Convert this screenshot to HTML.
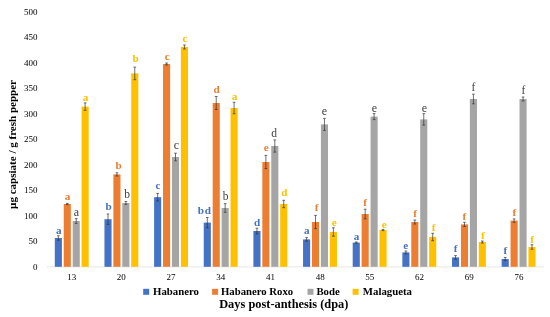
<!DOCTYPE html>
<html><head><meta charset="utf-8"><title>Capsiate content chart</title>
<style>
html,body{margin:0;padding:0;background:#fff;}
svg{display:block;font-family:"Liberation Serif","DejaVu Serif",serif;}
.tick{font-size:9px;fill:#000;}
.lab{font-size:11.2px;font-weight:bold;}
.labr{font-size:12px;font-weight:normal;}
.leg{font-size:10.9px;font-weight:bold;fill:#000;}
.ttl{font-size:12.2px;font-weight:bold;fill:#000;}
.yttl{font-size:11.4px;font-weight:bold;fill:#000;}
.eb{stroke:#333;stroke-width:0.7;fill:none;}
</style></head><body>
<svg width="550" height="317" viewBox="0 0 550 317">
<rect width="550" height="317" fill="#fff"/>
<text class="tick" x="37.4" y="269.6" text-anchor="end">0</text>
<text class="tick" x="37.4" y="244.1" text-anchor="end">50</text>
<text class="tick" x="37.4" y="218.6" text-anchor="end">100</text>
<text class="tick" x="37.4" y="193.1" text-anchor="end">150</text>
<text class="tick" x="37.4" y="167.6" text-anchor="end">200</text>
<text class="tick" x="37.4" y="142.1" text-anchor="end">250</text>
<text class="tick" x="37.4" y="116.6" text-anchor="end">300</text>
<text class="tick" x="37.4" y="91.1" text-anchor="end">350</text>
<text class="tick" x="37.4" y="65.6" text-anchor="end">400</text>
<text class="tick" x="37.4" y="40.1" text-anchor="end">450</text>
<text class="tick" x="37.4" y="14.6" text-anchor="end">500</text>
<line x1="46.8" y1="266.90000000000003" x2="544" y2="266.90000000000003" stroke="#E4E4E4" stroke-width="0.9"/>
<rect x="54.80" y="238.00" width="7.1" height="28.80" fill="#4472C4"/>
<rect x="63.73" y="204.00" width="7.1" height="62.80" fill="#ED7D31"/>
<rect x="72.66" y="221.00" width="7.1" height="45.80" fill="#A5A5A5"/>
<rect x="81.59" y="106.60" width="7.1" height="160.20" fill="#FFC000"/>
<rect x="104.45" y="219.20" width="7.1" height="47.60" fill="#4472C4"/>
<rect x="113.38" y="174.40" width="7.1" height="92.40" fill="#ED7D31"/>
<rect x="122.31" y="203.00" width="7.1" height="63.80" fill="#A5A5A5"/>
<rect x="131.24" y="73.40" width="7.1" height="193.40" fill="#FFC000"/>
<rect x="154.10" y="197.20" width="7.1" height="69.60" fill="#4472C4"/>
<rect x="163.03" y="64.00" width="7.1" height="202.80" fill="#ED7D31"/>
<rect x="171.96" y="157.00" width="7.1" height="109.80" fill="#A5A5A5"/>
<rect x="180.89" y="47.00" width="7.1" height="219.80" fill="#FFC000"/>
<rect x="203.75" y="222.60" width="7.1" height="44.20" fill="#4472C4"/>
<rect x="212.68" y="103.00" width="7.1" height="163.80" fill="#ED7D31"/>
<rect x="221.61" y="208.00" width="7.1" height="58.80" fill="#A5A5A5"/>
<rect x="230.54" y="108.00" width="7.1" height="158.80" fill="#FFC000"/>
<rect x="253.40" y="231.00" width="7.1" height="35.80" fill="#4472C4"/>
<rect x="262.33" y="162.00" width="7.1" height="104.80" fill="#ED7D31"/>
<rect x="271.26" y="146.00" width="7.1" height="120.80" fill="#A5A5A5"/>
<rect x="280.19" y="204.00" width="7.1" height="62.80" fill="#FFC000"/>
<rect x="303.05" y="239.40" width="7.1" height="27.40" fill="#4472C4"/>
<rect x="311.98" y="222.00" width="7.1" height="44.80" fill="#ED7D31"/>
<rect x="320.91" y="124.40" width="7.1" height="142.40" fill="#A5A5A5"/>
<rect x="329.84" y="232.00" width="7.1" height="34.80" fill="#FFC000"/>
<rect x="352.70" y="242.60" width="7.1" height="24.20" fill="#4472C4"/>
<rect x="361.63" y="214.00" width="7.1" height="52.80" fill="#ED7D31"/>
<rect x="370.56" y="116.60" width="7.1" height="150.20" fill="#A5A5A5"/>
<rect x="379.49" y="230.00" width="7.1" height="36.80" fill="#FFC000"/>
<rect x="402.35" y="252.40" width="7.1" height="14.40" fill="#4472C4"/>
<rect x="411.28" y="222.00" width="7.1" height="44.80" fill="#ED7D31"/>
<rect x="420.21" y="119.40" width="7.1" height="147.40" fill="#A5A5A5"/>
<rect x="429.14" y="237.00" width="7.1" height="29.80" fill="#FFC000"/>
<rect x="452.00" y="257.40" width="7.1" height="9.40" fill="#4472C4"/>
<rect x="460.93" y="224.40" width="7.1" height="42.40" fill="#ED7D31"/>
<rect x="469.86" y="99.00" width="7.1" height="167.80" fill="#A5A5A5"/>
<rect x="478.79" y="242.00" width="7.1" height="24.80" fill="#FFC000"/>
<rect x="501.65" y="259.00" width="7.1" height="7.80" fill="#4472C4"/>
<rect x="510.58" y="220.60" width="7.1" height="46.20" fill="#ED7D31"/>
<rect x="519.51" y="99.00" width="7.1" height="167.80" fill="#A5A5A5"/>
<rect x="528.44" y="247.00" width="7.1" height="19.80" fill="#FFC000"/>
<path class="eb" d="M58.35 235.80V240.20M57.00 235.80h2.7M57.00 240.20h2.7"/>
<text class="lab" x="58.80" y="234.10" text-anchor="middle" fill="#4472C4">a</text>
<path class="eb" d="M67.28 203.40V204.60M65.93 203.40h2.7M65.93 204.60h2.7"/>
<text class="lab" x="67.60" y="199.60" text-anchor="middle" fill="#ED7D31">a</text>
<path class="eb" d="M76.21 218.60V223.40M74.86 218.60h2.7M74.86 223.40h2.7"/>
<text class="labr" x="76.30" y="216.10" text-anchor="middle" fill="#404040">a</text>
<path class="eb" d="M85.14 102.90V110.30M83.79 102.90h2.7M83.79 110.30h2.7"/>
<text class="lab" x="85.60" y="101.40" text-anchor="middle" fill="#FFC000">a</text>
<path class="eb" d="M108.00 214.00V224.40M106.65 214.00h2.7M106.65 224.40h2.7"/>
<text class="lab" x="108.50" y="210.20" text-anchor="middle" fill="#4472C4">b</text>
<path class="eb" d="M116.93 172.80V176.00M115.58 172.80h2.7M115.58 176.00h2.7"/>
<text class="lab" x="118.70" y="168.80" text-anchor="middle" fill="#ED7D31">b</text>
<path class="eb" d="M125.86 201.60V204.40M124.51 201.60h2.7M124.51 204.40h2.7"/>
<text class="labr" style="font-size:11.5px" x="127.00" y="197.80" text-anchor="middle" fill="#404040">b</text>
<path class="eb" d="M134.79 67.10V79.70M133.44 67.10h2.7M133.44 79.70h2.7"/>
<text class="lab" x="135.60" y="62.20" text-anchor="middle" fill="#FFC000">b</text>
<path class="eb" d="M157.65 193.40V201.00M156.30 193.40h2.7M156.30 201.00h2.7"/>
<text class="lab" x="158.10" y="189.30" text-anchor="middle" fill="#4472C4">c</text>
<path class="eb" d="M166.58 63.00V65.00M165.23 63.00h2.7M165.23 65.00h2.7"/>
<text class="lab" x="167.20" y="59.80" text-anchor="middle" fill="#ED7D31">c</text>
<path class="eb" d="M175.51 153.20V160.80M174.16 153.20h2.7M174.16 160.80h2.7"/>
<text class="labr" x="176.50" y="149.20" text-anchor="middle" fill="#404040">c</text>
<path class="eb" d="M184.44 45.00V49.00M183.09 45.00h2.7M183.09 49.00h2.7"/>
<text class="lab" x="185.00" y="41.80" text-anchor="middle" fill="#FFC000">c</text>
<path class="eb" d="M207.30 217.50V227.70M205.95 217.50h2.7M205.95 227.70h2.7"/>
<text class="lab" x="204.80" y="214.20" text-anchor="middle" fill="#4472C4" letter-spacing="0.9">bd</text>
<path class="eb" d="M216.23 96.50V109.50M214.88 96.50h2.7M214.88 109.50h2.7"/>
<text class="lab" x="216.70" y="93.40" text-anchor="middle" fill="#ED7D31">d</text>
<path class="eb" d="M225.16 203.70V212.30M223.81 203.70h2.7M223.81 212.30h2.7"/>
<text class="labr" style="font-size:11.5px" x="225.60" y="199.80" text-anchor="middle" fill="#404040">b</text>
<path class="eb" d="M234.09 102.30V113.70M232.74 102.30h2.7M232.74 113.70h2.7"/>
<text class="lab" x="234.50" y="100.40" text-anchor="middle" fill="#FFC000">a</text>
<path class="eb" d="M256.95 228.20V233.80M255.60 228.20h2.7M255.60 233.80h2.7"/>
<text class="lab" x="257.00" y="225.80" text-anchor="middle" fill="#4472C4">d</text>
<path class="eb" d="M265.88 155.40V168.60M264.53 155.40h2.7M264.53 168.60h2.7"/>
<text class="lab" x="266.30" y="151.20" text-anchor="middle" fill="#ED7D31">e</text>
<path class="eb" d="M274.81 139.90V152.10M273.46 139.90h2.7M273.46 152.10h2.7"/>
<text class="labr" style="font-size:11.5px" x="274.00" y="136.70" text-anchor="middle" fill="#404040">d</text>
<path class="eb" d="M283.74 200.30V207.70M282.39 200.30h2.7M282.39 207.70h2.7"/>
<text class="lab" x="284.40" y="196.10" text-anchor="middle" fill="#FFC000">d</text>
<path class="eb" d="M306.60 237.60V241.20M305.25 237.60h2.7M305.25 241.20h2.7"/>
<text class="lab" x="306.80" y="234.20" text-anchor="middle" fill="#4472C4">a</text>
<path class="eb" d="M315.53 215.40V228.60M314.18 215.40h2.7M314.18 228.60h2.7"/>
<text class="lab" x="316.60" y="210.80" text-anchor="middle" fill="#ED7D31">f</text>
<path class="eb" d="M324.46 118.40V130.40M323.11 118.40h2.7M323.11 130.40h2.7"/>
<text class="labr" x="324.30" y="115.10" text-anchor="middle" fill="#404040">e</text>
<path class="eb" d="M333.39 227.80V236.20M332.04 227.80h2.7M332.04 236.20h2.7"/>
<text class="lab" x="334.20" y="225.80" text-anchor="middle" fill="#FFC000">e</text>
<path class="eb" d="M356.25 242.00V243.20M354.90 242.00h2.7M354.90 243.20h2.7"/>
<text class="lab" x="356.50" y="239.80" text-anchor="middle" fill="#4472C4">a</text>
<path class="eb" d="M365.18 209.20V218.80M363.83 209.20h2.7M363.83 218.80h2.7"/>
<text class="lab" x="365.20" y="206.20" text-anchor="middle" fill="#ED7D31">f</text>
<path class="eb" d="M374.11 113.60V119.60M372.76 113.60h2.7M372.76 119.60h2.7"/>
<text class="labr" x="374.30" y="111.90" text-anchor="middle" fill="#404040">e</text>
<path class="eb" d="M383.04 229.40V230.60M381.69 229.40h2.7M381.69 230.60h2.7"/>
<text class="lab" x="384.20" y="228.00" text-anchor="middle" fill="#FFC000">e</text>
<path class="eb" d="M405.90 251.00V253.80M404.55 251.00h2.7M404.55 253.80h2.7"/>
<text class="lab" x="405.80" y="249.00" text-anchor="middle" fill="#4472C4">e</text>
<path class="eb" d="M414.83 220.00V224.00M413.48 220.00h2.7M413.48 224.00h2.7"/>
<text class="lab" x="415.20" y="216.80" text-anchor="middle" fill="#ED7D31">f</text>
<path class="eb" d="M423.76 113.70V125.10M422.41 113.70h2.7M422.41 125.10h2.7"/>
<text class="labr" x="424.30" y="111.90" text-anchor="middle" fill="#404040">e</text>
<path class="eb" d="M432.69 233.30V240.70M431.34 233.30h2.7M431.34 240.70h2.7"/>
<text class="lab" x="433.50" y="231.40" text-anchor="middle" fill="#FFC000">f</text>
<path class="eb" d="M455.55 255.60V259.20M454.20 255.60h2.7M454.20 259.20h2.7"/>
<text class="lab" x="455.50" y="252.40" text-anchor="middle" fill="#4472C4">f</text>
<path class="eb" d="M464.48 222.30V226.50M463.13 222.30h2.7M463.13 226.50h2.7"/>
<text class="lab" x="464.30" y="220.20" text-anchor="middle" fill="#ED7D31">f</text>
<path class="eb" d="M473.41 94.20V103.80M472.06 94.20h2.7M472.06 103.80h2.7"/>
<text class="labr" style="font-size:11.5px" x="473.50" y="90.80" text-anchor="middle" fill="#404040">f</text>
<path class="eb" d="M482.34 241.00V243.00M480.99 241.00h2.7M480.99 243.00h2.7"/>
<text class="lab" x="482.80" y="239.20" text-anchor="middle" fill="#FFC000">f</text>
<path class="eb" d="M505.20 257.50V260.50M503.85 257.50h2.7M503.85 260.50h2.7"/>
<text class="lab" x="505.30" y="253.80" text-anchor="middle" fill="#4472C4">f</text>
<path class="eb" d="M514.13 218.90V222.30M512.78 218.90h2.7M512.78 222.30h2.7"/>
<text class="lab" x="514.30" y="215.80" text-anchor="middle" fill="#ED7D31">f</text>
<path class="eb" d="M523.06 97.00V101.00M521.71 97.00h2.7M521.71 101.00h2.7"/>
<text class="labr" style="font-size:11.5px" x="523.30" y="94.20" text-anchor="middle" fill="#404040">f</text>
<path class="eb" d="M531.99 244.70V249.30M530.64 244.70h2.7M530.64 249.30h2.7"/>
<text class="lab" x="532.20" y="242.80" text-anchor="middle" fill="#FFC000">f</text>
<text class="tick" x="71.65" y="280.3" text-anchor="middle">13</text>
<text class="tick" x="121.35" y="280.3" text-anchor="middle">20</text>
<text class="tick" x="171.05" y="280.3" text-anchor="middle">27</text>
<text class="tick" x="220.75" y="280.3" text-anchor="middle">34</text>
<text class="tick" x="270.45" y="280.3" text-anchor="middle">41</text>
<text class="tick" x="320.15" y="280.3" text-anchor="middle">48</text>
<text class="tick" x="369.85" y="280.3" text-anchor="middle">55</text>
<text class="tick" x="419.55" y="280.3" text-anchor="middle">62</text>
<text class="tick" x="469.25" y="280.3" text-anchor="middle">69</text>
<text class="tick" x="518.95" y="280.3" text-anchor="middle">76</text>
<rect x="143.2" y="288.8" width="6" height="6" fill="#4472C4"/>
<text class="leg" x="153.0" y="294.6" textLength="46.0" lengthAdjust="spacingAndGlyphs">Habanero</text>
<rect x="212.1" y="288.8" width="6" height="6" fill="#ED7D31"/>
<text class="leg" x="221" y="294.6" textLength="72.2" lengthAdjust="spacingAndGlyphs">Habanero Roxo</text>
<rect x="307.5" y="288.8" width="6" height="6" fill="#A5A5A5"/>
<text class="leg" x="316.4" y="294.6" textLength="23.4" lengthAdjust="spacingAndGlyphs">Bode</text>
<rect x="352.6" y="288.8" width="6" height="6" fill="#FFC000"/>
<text class="leg" x="362.8" y="294.6" textLength="49.2" lengthAdjust="spacingAndGlyphs">Malagueta</text>
<text class="ttl" x="219.2" y="308.3" textLength="129.2" lengthAdjust="spacingAndGlyphs">Days post-anthesis (dpa)</text>
<text class="yttl" transform="translate(15.7,208.9) rotate(-90)" textLength="128.9" lengthAdjust="spacingAndGlyphs">µg capsiate / g fresh pepper</text>
</svg></body></html>
